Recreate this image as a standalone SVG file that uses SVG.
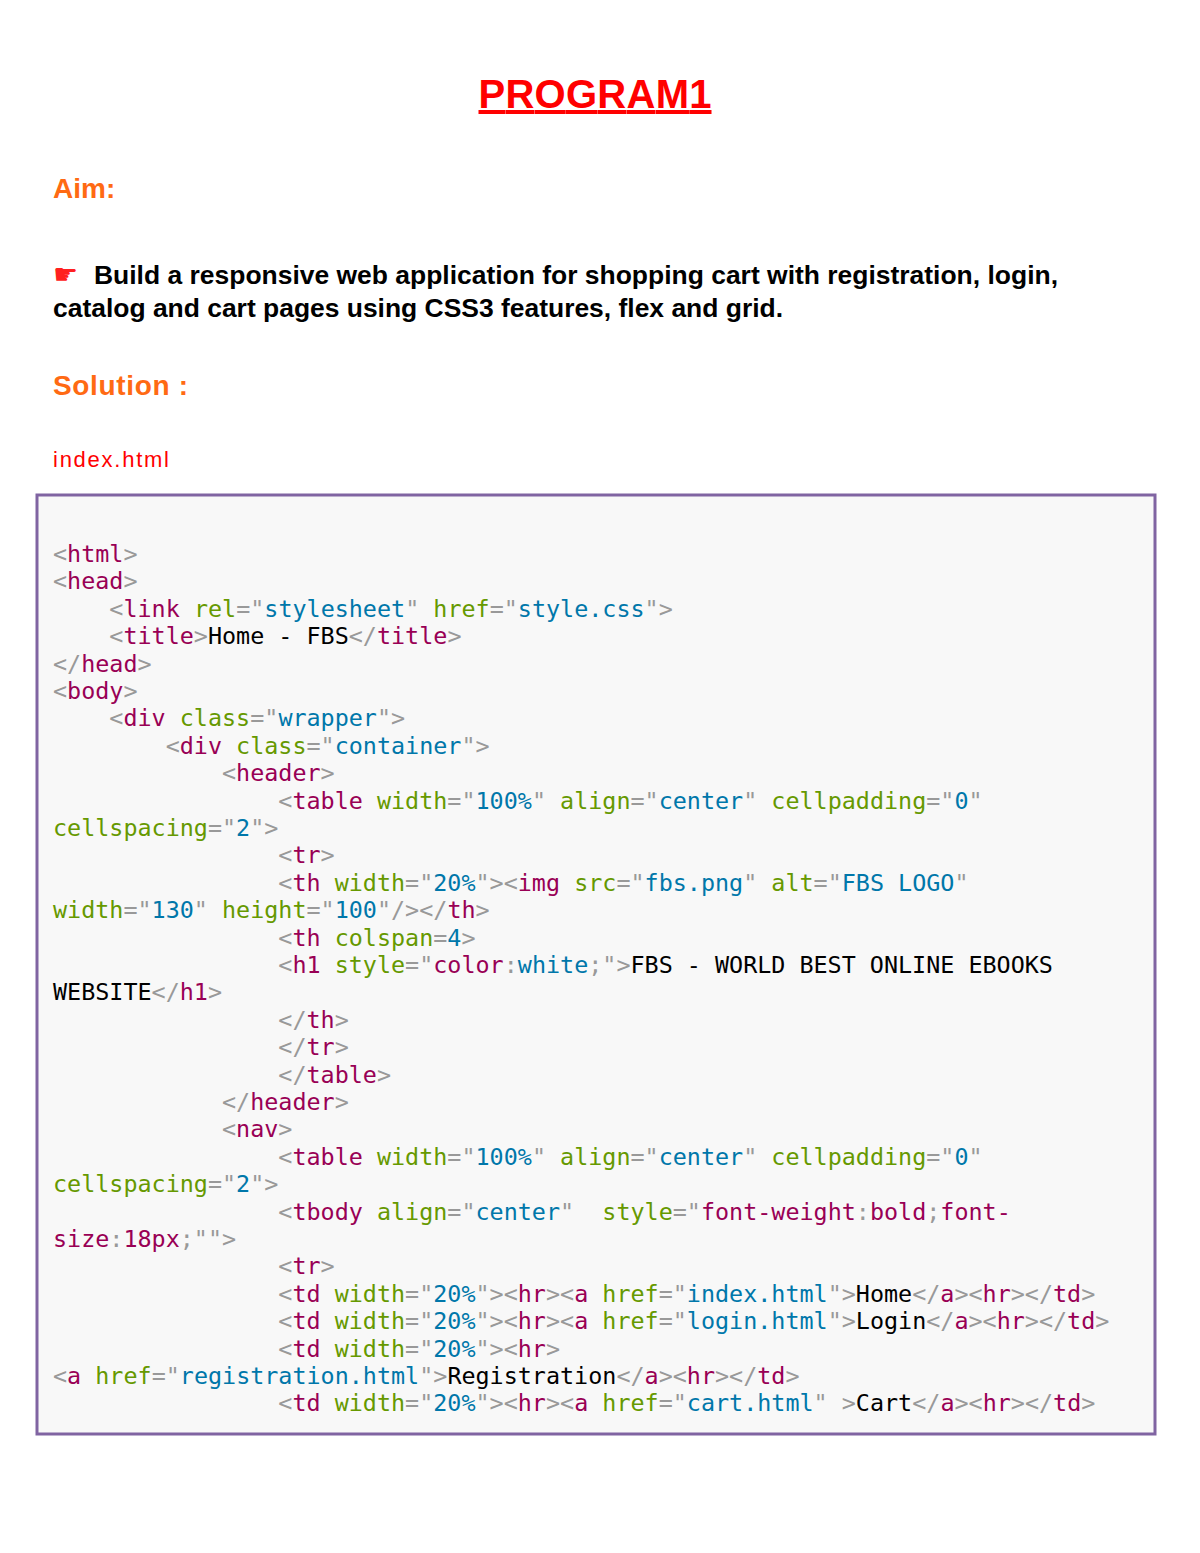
<svg xmlns="http://www.w3.org/2000/svg" width="1200" height="1553" viewBox="0 0 1200 1553">
<style>
.h{font-family:"Liberation Sans",Arial,sans-serif;font-weight:bold}
.c{font-family:"DejaVu Sans Mono",monospace;font-size:23.4px;white-space:pre}
.t{fill:#990055}.a{fill:#669900}.v{fill:#0077aa}.p{fill:#999999}.x{fill:#000}
</style>
<rect width="1200" height="1553" fill="#fff"/>
<g id="heading">
<text x="595" y="108" text-anchor="middle" class="h" font-size="40" fill="#ff0000" text-decoration="underline" textLength="233">PROGRAM1</text>
<text x="53" y="198" class="h" font-size="28" fill="#ff6a13">Aim:</text>
<text x="53" y="284" font-family="DejaVu Sans,sans-serif" font-size="28" fill="#ff2020">☛</text>
<text x="94" y="284" class="h" font-size="25" fill="#000" textLength="964" lengthAdjust="spacingAndGlyphs">Build a responsive web application for shopping cart with registration, login,</text>
<text x="53" y="317" class="h" font-size="25" fill="#000" textLength="730" lengthAdjust="spacingAndGlyphs">catalog and cart pages using CSS3 features, flex and grid.</text>
<text x="53" y="395" class="h" font-size="28" fill="#ff6a13" textLength="135">Solution :</text>
<text x="53" y="467" font-family="Liberation Sans,Arial,sans-serif" font-size="22" fill="#ff0000" textLength="116">index.html</text>
</g>
<g id="codebox">
<rect x="37" y="495" width="1118" height="939" fill="#f8f8f8" stroke="#8064a2" stroke-width="3"/>
<g class="c">
<text x="53" y="562"><tspan class="p">&lt;</tspan><tspan class="t">html</tspan><tspan class="p">&gt;</tspan></text>
<text x="53" y="589.4"><tspan class="p">&lt;</tspan><tspan class="t">head</tspan><tspan class="p">&gt;</tspan></text>
<text x="53" y="616.8">&#160;&#160;&#160;&#160;<tspan class="p">&lt;</tspan><tspan class="t">link</tspan>&#160;<tspan class="a">rel</tspan><tspan class="p">="</tspan><tspan class="v">stylesheet</tspan><tspan class="p">"</tspan>&#160;<tspan class="a">href</tspan><tspan class="p">="</tspan><tspan class="v">style.css</tspan><tspan class="p">"&gt;</tspan></text>
<text x="53" y="644.2">&#160;&#160;&#160;&#160;<tspan class="p">&lt;</tspan><tspan class="t">title</tspan><tspan class="p">&gt;</tspan><tspan class="x">Home&#160;-&#160;FBS</tspan><tspan class="p">&lt;/</tspan><tspan class="t">title</tspan><tspan class="p">&gt;</tspan></text>
<text x="53" y="671.6"><tspan class="p">&lt;/</tspan><tspan class="t">head</tspan><tspan class="p">&gt;</tspan></text>
<text x="53" y="699"><tspan class="p">&lt;</tspan><tspan class="t">body</tspan><tspan class="p">&gt;</tspan></text>
<text x="53" y="726.4">&#160;&#160;&#160;&#160;<tspan class="p">&lt;</tspan><tspan class="t">div</tspan>&#160;<tspan class="a">class</tspan><tspan class="p">="</tspan><tspan class="v">wrapper</tspan><tspan class="p">"&gt;</tspan></text>
<text x="53" y="753.8">&#160;&#160;&#160;&#160;&#160;&#160;&#160;&#160;<tspan class="p">&lt;</tspan><tspan class="t">div</tspan>&#160;<tspan class="a">class</tspan><tspan class="p">="</tspan><tspan class="v">container</tspan><tspan class="p">"&gt;</tspan></text>
<text x="53" y="781.2">&#160;&#160;&#160;&#160;&#160;&#160;&#160;&#160;&#160;&#160;&#160;&#160;<tspan class="p">&lt;</tspan><tspan class="t">header</tspan><tspan class="p">&gt;</tspan></text>
<text x="53" y="808.6">&#160;&#160;&#160;&#160;&#160;&#160;&#160;&#160;&#160;&#160;&#160;&#160;&#160;&#160;&#160;&#160;<tspan class="p">&lt;</tspan><tspan class="t">table</tspan>&#160;<tspan class="a">width</tspan><tspan class="p">="</tspan><tspan class="v">100%</tspan><tspan class="p">"</tspan>&#160;<tspan class="a">align</tspan><tspan class="p">="</tspan><tspan class="v">center</tspan><tspan class="p">"</tspan>&#160;<tspan class="a">cellpadding</tspan><tspan class="p">="</tspan><tspan class="v">0</tspan><tspan class="p">"</tspan></text>
<text x="53" y="836"><tspan class="a">cellspacing</tspan><tspan class="p">="</tspan><tspan class="v">2</tspan><tspan class="p">"&gt;</tspan></text>
<text x="53" y="863.4">&#160;&#160;&#160;&#160;&#160;&#160;&#160;&#160;&#160;&#160;&#160;&#160;&#160;&#160;&#160;&#160;<tspan class="p">&lt;</tspan><tspan class="t">tr</tspan><tspan class="p">&gt;</tspan></text>
<text x="53" y="890.8">&#160;&#160;&#160;&#160;&#160;&#160;&#160;&#160;&#160;&#160;&#160;&#160;&#160;&#160;&#160;&#160;<tspan class="p">&lt;</tspan><tspan class="t">th</tspan>&#160;<tspan class="a">width</tspan><tspan class="p">="</tspan><tspan class="v">20%</tspan><tspan class="p">"&gt;&lt;</tspan><tspan class="t">img</tspan>&#160;<tspan class="a">src</tspan><tspan class="p">="</tspan><tspan class="v">fbs.png</tspan><tspan class="p">"</tspan>&#160;<tspan class="a">alt</tspan><tspan class="p">="</tspan><tspan class="v">FBS&#160;LOGO</tspan><tspan class="p">"</tspan></text>
<text x="53" y="918.2"><tspan class="a">width</tspan><tspan class="p">="</tspan><tspan class="v">130</tspan><tspan class="p">"</tspan>&#160;<tspan class="a">height</tspan><tspan class="p">="</tspan><tspan class="v">100</tspan><tspan class="p">"/&gt;&lt;/</tspan><tspan class="t">th</tspan><tspan class="p">&gt;</tspan></text>
<text x="53" y="945.6">&#160;&#160;&#160;&#160;&#160;&#160;&#160;&#160;&#160;&#160;&#160;&#160;&#160;&#160;&#160;&#160;<tspan class="p">&lt;</tspan><tspan class="t">th</tspan>&#160;<tspan class="a">colspan</tspan><tspan class="p">=</tspan><tspan class="v">4</tspan><tspan class="p">&gt;</tspan></text>
<text x="53" y="973">&#160;&#160;&#160;&#160;&#160;&#160;&#160;&#160;&#160;&#160;&#160;&#160;&#160;&#160;&#160;&#160;<tspan class="p">&lt;</tspan><tspan class="t">h1</tspan>&#160;<tspan class="a">style</tspan><tspan class="p">="</tspan><tspan class="t">color</tspan><tspan class="p">:</tspan><tspan class="v">white</tspan><tspan class="p">;"&gt;</tspan><tspan class="x">FBS&#160;-&#160;WORLD&#160;BEST&#160;ONLINE&#160;EBOOKS</tspan></text>
<text x="53" y="1000.4"><tspan class="x">WEBSITE</tspan><tspan class="p">&lt;/</tspan><tspan class="t">h1</tspan><tspan class="p">&gt;</tspan></text>
<text x="53" y="1027.8">&#160;&#160;&#160;&#160;&#160;&#160;&#160;&#160;&#160;&#160;&#160;&#160;&#160;&#160;&#160;&#160;<tspan class="p">&lt;/</tspan><tspan class="t">th</tspan><tspan class="p">&gt;</tspan></text>
<text x="53" y="1055.2">&#160;&#160;&#160;&#160;&#160;&#160;&#160;&#160;&#160;&#160;&#160;&#160;&#160;&#160;&#160;&#160;<tspan class="p">&lt;/</tspan><tspan class="t">tr</tspan><tspan class="p">&gt;</tspan></text>
<text x="53" y="1082.6">&#160;&#160;&#160;&#160;&#160;&#160;&#160;&#160;&#160;&#160;&#160;&#160;&#160;&#160;&#160;&#160;<tspan class="p">&lt;/</tspan><tspan class="t">table</tspan><tspan class="p">&gt;</tspan></text>
<text x="53" y="1110">&#160;&#160;&#160;&#160;&#160;&#160;&#160;&#160;&#160;&#160;&#160;&#160;<tspan class="p">&lt;/</tspan><tspan class="t">header</tspan><tspan class="p">&gt;</tspan></text>
<text x="53" y="1137.4">&#160;&#160;&#160;&#160;&#160;&#160;&#160;&#160;&#160;&#160;&#160;&#160;<tspan class="p">&lt;</tspan><tspan class="t">nav</tspan><tspan class="p">&gt;</tspan></text>
<text x="53" y="1164.8">&#160;&#160;&#160;&#160;&#160;&#160;&#160;&#160;&#160;&#160;&#160;&#160;&#160;&#160;&#160;&#160;<tspan class="p">&lt;</tspan><tspan class="t">table</tspan>&#160;<tspan class="a">width</tspan><tspan class="p">="</tspan><tspan class="v">100%</tspan><tspan class="p">"</tspan>&#160;<tspan class="a">align</tspan><tspan class="p">="</tspan><tspan class="v">center</tspan><tspan class="p">"</tspan>&#160;<tspan class="a">cellpadding</tspan><tspan class="p">="</tspan><tspan class="v">0</tspan><tspan class="p">"</tspan></text>
<text x="53" y="1192.2"><tspan class="a">cellspacing</tspan><tspan class="p">="</tspan><tspan class="v">2</tspan><tspan class="p">"&gt;</tspan></text>
<text x="53" y="1219.6">&#160;&#160;&#160;&#160;&#160;&#160;&#160;&#160;&#160;&#160;&#160;&#160;&#160;&#160;&#160;&#160;<tspan class="p">&lt;</tspan><tspan class="t">tbody</tspan>&#160;<tspan class="a">align</tspan><tspan class="p">="</tspan><tspan class="v">center</tspan><tspan class="p">"</tspan>&#160;&#160;<tspan class="a">style</tspan><tspan class="p">="</tspan><tspan class="t">font-weight</tspan><tspan class="p">:</tspan><tspan class="t">bold</tspan><tspan class="p">;</tspan><tspan class="t">font-</tspan></text>
<text x="53" y="1247"><tspan class="t">size</tspan><tspan class="p">:</tspan><tspan class="t">18px</tspan><tspan class="p">;""&gt;</tspan></text>
<text x="53" y="1274.4">&#160;&#160;&#160;&#160;&#160;&#160;&#160;&#160;&#160;&#160;&#160;&#160;&#160;&#160;&#160;&#160;<tspan class="p">&lt;</tspan><tspan class="t">tr</tspan><tspan class="p">&gt;</tspan></text>
<text x="53" y="1301.8">&#160;&#160;&#160;&#160;&#160;&#160;&#160;&#160;&#160;&#160;&#160;&#160;&#160;&#160;&#160;&#160;<tspan class="p">&lt;</tspan><tspan class="t">td</tspan>&#160;<tspan class="a">width</tspan><tspan class="p">="</tspan><tspan class="v">20%</tspan><tspan class="p">"&gt;&lt;</tspan><tspan class="t">hr</tspan><tspan class="p">&gt;&lt;</tspan><tspan class="t">a</tspan>&#160;<tspan class="a">href</tspan><tspan class="p">="</tspan><tspan class="v">index.html</tspan><tspan class="p">"&gt;</tspan><tspan class="x">Home</tspan><tspan class="p">&lt;/</tspan><tspan class="t">a</tspan><tspan class="p">&gt;&lt;</tspan><tspan class="t">hr</tspan><tspan class="p">&gt;&lt;/</tspan><tspan class="t">td</tspan><tspan class="p">&gt;</tspan></text>
<text x="53" y="1329.2">&#160;&#160;&#160;&#160;&#160;&#160;&#160;&#160;&#160;&#160;&#160;&#160;&#160;&#160;&#160;&#160;<tspan class="p">&lt;</tspan><tspan class="t">td</tspan>&#160;<tspan class="a">width</tspan><tspan class="p">="</tspan><tspan class="v">20%</tspan><tspan class="p">"&gt;&lt;</tspan><tspan class="t">hr</tspan><tspan class="p">&gt;&lt;</tspan><tspan class="t">a</tspan>&#160;<tspan class="a">href</tspan><tspan class="p">="</tspan><tspan class="v">login.html</tspan><tspan class="p">"&gt;</tspan><tspan class="x">Login</tspan><tspan class="p">&lt;/</tspan><tspan class="t">a</tspan><tspan class="p">&gt;&lt;</tspan><tspan class="t">hr</tspan><tspan class="p">&gt;&lt;/</tspan><tspan class="t">td</tspan><tspan class="p">&gt;</tspan></text>
<text x="53" y="1356.6">&#160;&#160;&#160;&#160;&#160;&#160;&#160;&#160;&#160;&#160;&#160;&#160;&#160;&#160;&#160;&#160;<tspan class="p">&lt;</tspan><tspan class="t">td</tspan>&#160;<tspan class="a">width</tspan><tspan class="p">="</tspan><tspan class="v">20%</tspan><tspan class="p">"&gt;&lt;</tspan><tspan class="t">hr</tspan><tspan class="p">&gt;</tspan></text>
<text x="53" y="1384"><tspan class="p">&lt;</tspan><tspan class="t">a</tspan>&#160;<tspan class="a">href</tspan><tspan class="p">="</tspan><tspan class="v">registration.html</tspan><tspan class="p">"&gt;</tspan><tspan class="x">Registration</tspan><tspan class="p">&lt;/</tspan><tspan class="t">a</tspan><tspan class="p">&gt;&lt;</tspan><tspan class="t">hr</tspan><tspan class="p">&gt;&lt;/</tspan><tspan class="t">td</tspan><tspan class="p">&gt;</tspan></text>
<text x="53" y="1411.4">&#160;&#160;&#160;&#160;&#160;&#160;&#160;&#160;&#160;&#160;&#160;&#160;&#160;&#160;&#160;&#160;<tspan class="p">&lt;</tspan><tspan class="t">td</tspan>&#160;<tspan class="a">width</tspan><tspan class="p">="</tspan><tspan class="v">20%</tspan><tspan class="p">"&gt;&lt;</tspan><tspan class="t">hr</tspan><tspan class="p">&gt;&lt;</tspan><tspan class="t">a</tspan>&#160;<tspan class="a">href</tspan><tspan class="p">="</tspan><tspan class="v">cart.html</tspan><tspan class="p">"</tspan>&#160;<tspan class="p">&gt;</tspan><tspan class="x">Cart</tspan><tspan class="p">&lt;/</tspan><tspan class="t">a</tspan><tspan class="p">&gt;&lt;</tspan><tspan class="t">hr</tspan><tspan class="p">&gt;&lt;/</tspan><tspan class="t">td</tspan><tspan class="p">&gt;</tspan></text>
</g>
</g>
</svg>
